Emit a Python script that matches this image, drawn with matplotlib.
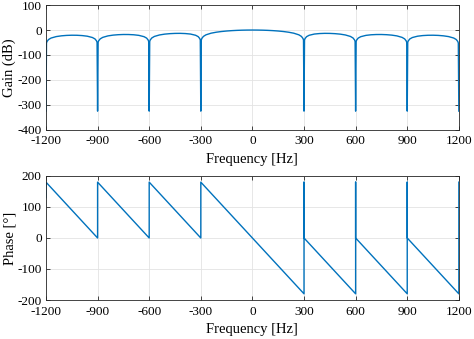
import numpy as np
import matplotlib.pyplot as plt

# gain, positive frequencies only (curve is symmetric)
freq_pos = [0, 30, 60, 90, 120, 150, 180, 210, 240, 270, 285, 294, 297, 300,
            303, 306, 315, 330, 360, 390, 420, 450, 480, 510, 540, 570, 585, 594, 597, 600,
            603, 606, 615, 630, 660, 690, 720, 750, 780, 810, 840, 870, 885, 894, 897, 900,
            903, 906, 915, 930, 960, 990, 1020, 1050, 1080, 1110, 1140, 1170, 1185, 1194, 1197, 1200]
gain_pos = [0, -0.14, -0.58, -1.33, -2.42, -3.92, -5.94, -8.69, -12.6, -19.2, -25.6, -33.8, -39.9, -325,
            -40.1, -34.2, -26.5, -21.0, -16.1, -14.1, -13.3, -13.5, -14.5, -16.4, -19.7, -25.7, -31.9, -39.9, -46.0, -325,
            -46.1, -40.1, -32.3, -26.6, -21.4, -19.0, -18.0, -17.9, -18.7, -20.4, -23.5, -29.4, -35.5, -43.5, -49.5, -325,
            -49.6, -43.6, -35.7, -30.0, -24.7, -22.2, -21.0, -20.8, -21.5, -23.2, -26.2, -32.0, -38.0, -46.0, -52.0, -325]

# phase corners
phase_freq = [-1200, -1200, -900, -900, -600, -600, -300, -300, 0,
              300, 300, 300, 600, 600, 600, 900, 900, 900, 1200, 1200]
phase_deg = [130, 180, 0, 180, 0, 180, 0, 180, 0,
             -180, 180, 0, -180, 180, 0, -180, 180, 0, -180, 180]

freq = np.concatenate([-np.array(freq_pos[:0:-1]), freq_pos])
gain = np.concatenate([np.array(gain_pos[:0:-1]), gain_pos])

plt.rcParams['font.family'] = ['Liberation Serif', 'DejaVu Serif']
plt.rcParams['axes.unicode_minus'] = False

blue = '#0072BD'
ticks = [-1200, -900, -600, -300, 0, 300, 600, 900, 1200]

fig = plt.figure(figsize=(4.74, 3.39), dpi=100)
ax1 = fig.add_axes([0.097, 0.617, 0.871, 0.368])
ax2 = fig.add_axes([0.097, 0.115, 0.871, 0.366])

ax1.plot(freq, gain, color=blue, lw=1)
ax1.set_ylim(-400, 100)
ax1.set_yticks([-400, -300, -200, -100, 0, 100])
ax1.set_ylabel('Gain (dB)', fontsize=10.5, labelpad=1)

ax2.plot(phase_freq, phase_deg, color=blue, lw=1)
ax2.set_ylim(-200, 200)
ax2.set_yticks([-200, -100, 0, 100, 200])
ax2.set_ylabel('Phase [°]', fontsize=10.5, labelpad=1)

for ax in (ax1, ax2):
    ax.set_xlim(-1200, 1200)
    ax.set_xticks(ticks)
    ax.set_xlabel('Frequency [Hz]', fontsize=10.5, labelpad=4)
    ax.grid(True, color='#e3e3e3', lw=0.6)
    ax.set_axisbelow(True)
    ax.tick_params(direction='in', top=True, right=True, length=3, width=0.6,
                   color='#262626', labelsize=9.5)
    ax.tick_params(axis='x', pad=4)
    ax.tick_params(axis='y', pad=3)
    for s in ax.spines.values():
        s.set_color('#262626')
        s.set_linewidth(0.6)

fig.savefig('out.png', dpi=100)
